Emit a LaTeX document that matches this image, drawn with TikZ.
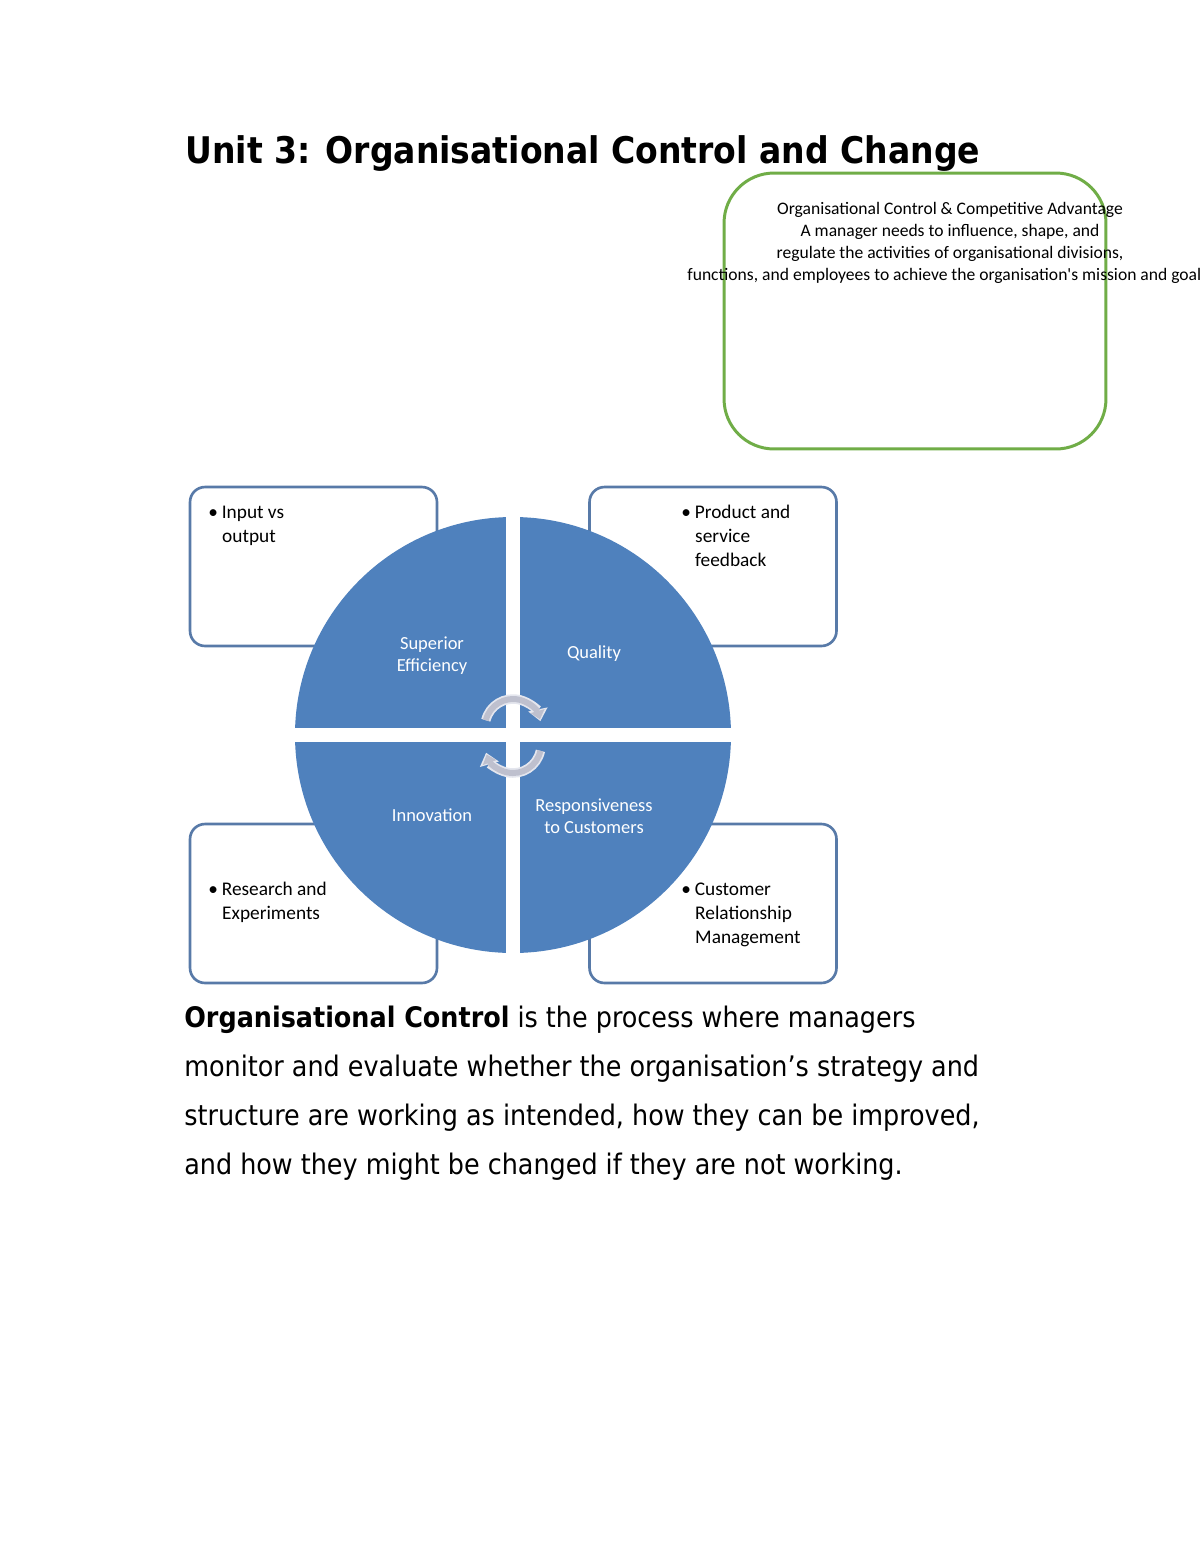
\documentclass[tikz,border=0pt]{standalone}
\usepackage{fontspec}
\setmainfont{DejaVu Sans Condensed}
\newfontfamily\calib{Carlito}
\usetikzlibrary{arrows.meta, positioning}
\definecolor{quadblue}{RGB}{79,129,189}
\definecolor{boxline}{RGB}{88,122,168}
\definecolor{advgreen}{RGB}{112,173,71}
\definecolor{cycfill}{RGB}{190,192,206}
\definecolor{cycline}{RGB}{228,230,238}
\tikzset{
  pointbox/.style={draw=boxline, line width=1.5pt, rounded corners=0.3cm, fill=white, minimum width=4.94cm, minimum height=3.18cm},
  pointtext/.style={anchor=base west, inner sep=0pt, align=left, font=\calib\fontsize{11}{13.6}\selectfont},
  quadlabel/.style={text=white, align=center, inner sep=0pt, font=\calib\fontsize{10.5}{12.5}\selectfont},
  bodyline/.style={anchor=base west, inner sep=0pt, font=\fontsize{16.1}{18}\selectfont}
}
\newcommand{\pitem}{\textbullet\hspace{2.2pt}}
\newcommand{\pindent}{\hspace{7.9pt}}
\begin{document}
\begin{tikzpicture}[x=0.02cm, y=-0.02cm]
\useasboundingbox[fill=white] (0,0) rectangle (1200,1553);
% Title
\node[anchor=base west, inner sep=0pt, font=\bfseries\fontsize{20.9}{24}\selectfont] (title) at (185,163) {Unit 3: Organisational Control and Change};
% Green box
\node[draw=advgreen, line width=1.7pt, rounded corners=1cm, minimum width=7.64cm, minimum height=5.52cm] (advbox) at (915,311) {};
\node[anchor=north, inner sep=0pt, align=center, font=\calib\fontsize{10}{12.5}\selectfont] (advtext) at (950,202)
  {Organisational Control \& Competitive Advantage\\A manager needs to influence, shape, and\\regulate the activities of organisational divisions,\\functions, and employees to achieve the organisation's mission and goals.};
% Point boxes
\node[pointbox] (effbox) at (313.5,566.5) {};
\node[pointbox] (qualbox) at (713,566.5) {};
\node[pointbox] (innbox) at (313.5,903.5) {};
\node[pointbox] (respbox) at (713,903.5) {};
% (base anchor sits on the last line)
\node[pointtext] (efftext) at (208,542) {\pitem Input vs\\\pindent output};
\node[pointtext] (qualtext) at (681,566) {\pitem Product and\\\pindent service\\\pindent feedback};
\node[pointtext] (inntext) at (208,919) {\pitem Research and\\\pindent Experiments};
\node[pointtext] (resptext) at (681,943) {\pitem Customer\\\pindent Relationship\\\pindent Management};
% Circle with four quadrants
\fill[quadblue] (513,735) circle (218);
\draw[white, line width=14*0.02cm] (513,510) -- (513,960);
\draw[white, line width=14*0.02cm] (288,735) -- (738,735);
\node[quadlabel] (eff) at (432,656) {Superior\\Efficiency};
\node[quadlabel] (qual) at (594,654) {Quality};
\node[quadlabel] (inn) at (432,815) {Innovation};
\node[quadlabel] (resp) at (594,816) {Responsiveness\\to Customers};
% Cycle arrows (y axis points down, so angles are mirrored)
\foreach \c/\a/\b in {727/-166/-12, 745/12/164} {
  \draw[cycline, line width=0.19cm, -{Triangle[length=0.24cm, width=0.38cm]}] ([shift=(\a:28)]513,\c) arc[start angle=\a, end angle=\b, radius=28];
  \draw[cycfill, line width=0.12cm, -{Triangle[length=0.17cm, width=0.28cm]}] ([shift=(\a:28)]513,\c) arc[start angle=\a, end angle=\b-4, radius=28];
}
% Body text
\node[bodyline] (body1) at (184,1027) {\textbf{Organisational Control} is the process where managers};
\node[bodyline] (body2) at (184,1076) {monitor and evaluate whether the organisation’s strategy and};
\node[bodyline] (body3) at (184,1125) {structure are working as intended, how they can be improved,};
\node[bodyline] (body4) at (184,1174) {and how they might be changed if they are not working.};
\end{tikzpicture}
\end{document}
